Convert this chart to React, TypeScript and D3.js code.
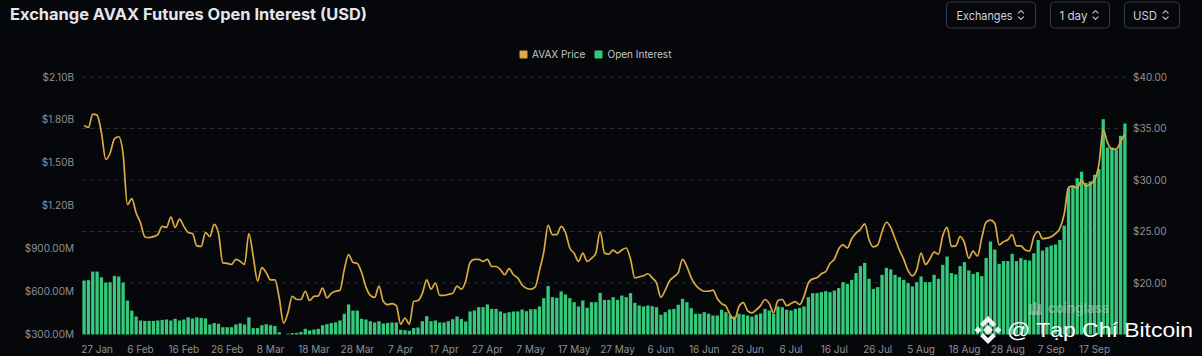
import React from "react";
import * as d3 from "d3";

// Open interest in millions USD, one value per day
const openInterest = [
  677, 680, 740, 740, 700, 663, 665, 710, 705, 663,
  537, 467, 426, 398, 395, 395, 395, 398, 402, 405,
  398, 410, 398, 405, 420, 412, 420, 415, 412, 370,
  380, 375, 351, 351, 351, 370, 378, 370, 420, 345,
  345, 365, 372, 365, 360, 316, 285, 305, 310, 312,
  318, 340, 328, 335, 340, 365, 372, 380, 385, 398,
  445, 510, 467, 467, 410, 405, 393, 384, 393, 377,
  381, 384, 384, 333, 330, 326, 345, 349, 393, 428,
  393, 398, 384, 384, 393, 407, 426, 409, 391, 461,
  468, 491, 491, 510, 479, 479, 461, 449, 456, 461,
  461, 475, 463, 477, 477, 496, 554, 638, 561, 556,
  601, 580, 554, 526, 496, 538, 487, 526, 526, 591,
  542, 542, 561, 542, 572, 561, 589, 521, 503, 496,
  503, 498, 491, 438, 456, 475, 479, 508, 549, 526,
  484, 445, 445, 456, 445, 433, 433, 473, 456, 433,
  425, 445, 440, 433, 425, 438, 447, 479, 468, 444,
  496, 491, 473, 468, 479, 486, 496, 561, 589, 589,
  596, 603, 596, 607, 624, 666, 654, 682, 729, 778,
  801, 689, 619, 631, 717, 766, 755, 717, 701, 682,
  659, 636, 666, 706, 666, 666, 717, 689, 787, 845,
  729, 720, 778, 806, 748, 724, 736, 708, 834, 950,
  894, 794, 813, 813, 864, 813, 834, 822, 817, 868,
  961, 887, 910, 922, 929, 961, 1061, 1323, 1340, 1393,
  1438, 1359, 1370, 1417, 1456, 1805, 1607, 1607, 1589, 1689,
  1775,
];

// AVAX price in USD
const avaxPrice = [
  35.3, 35.1, 36.4, 36.3, 34.6, 32.0, 32.6, 34.0, 34.2, 32.5,
  27.6, 28.2, 26.8, 25.85, 24.5, 24.4, 24.5, 24.7, 25.5, 25.4,
  26.4, 25.4, 26.2, 25.5, 24.9, 24.8, 23.6, 23.55, 24.9, 24.5,
  25.7, 24.8, 21.95, 21.9, 21.8, 22.3, 22.1, 21.8, 24.8, 22.6,
  20.2, 21.5, 21.0, 20.3, 20.3, 18.55, 16.1, 17.1, 18.7, 18.4,
  18.4, 19.2, 18.3, 18.7, 18.75, 19.5, 18.55, 19.0, 19.2, 19.3,
  21.3, 22.75, 22.0, 21.9, 21.0, 19.6, 18.8, 18.6, 19.7, 18.2,
  17.9, 18.0, 17.8, 16.0, 16.6, 16.0, 18.2, 18.3, 19.0, 20.3,
  19.4, 20.0, 18.8, 18.8, 18.9, 19.0, 19.7, 19.4, 20.2, 22.0,
  22.3, 22.3, 22.1, 22.3, 21.6, 21.6, 21.3, 20.8, 21.4, 20.8,
  20.5, 19.8, 19.5, 19.4, 19.6, 21.2, 23.0, 25.6, 24.7, 24.7,
  25.5, 24.9, 23.4, 22.9, 22.1, 22.9, 22.1, 22.4, 22.9, 25.0,
  22.9, 22.8, 23.2, 22.9, 23.2, 23.4, 22.3, 20.5, 20.6, 20.7,
  20.9, 20.5, 20.0, 18.6, 19.3, 20.2, 20.6, 21.0, 22.3, 21.6,
  20.5, 19.8, 19.4, 19.2, 19.2, 19.3, 18.5, 18.0, 17.75, 16.9,
  16.5, 17.7, 18.1, 17.3, 17.1, 17.4, 17.8, 18.4, 18.0, 17.1,
  18.3, 18.4, 17.8, 18.0, 18.2, 17.9, 18.7, 20.0, 20.4, 20.5,
  20.9, 21.1, 21.9, 22.3, 23.3, 23.7, 23.4, 24.3, 24.85, 25.2,
  25.75, 24.2, 23.5, 23.7, 25.0, 25.9, 25.4, 24.3, 23.2, 22.3,
  21.2, 20.7, 21.3, 22.9, 21.8, 22.3, 23.0, 22.8, 24.6, 25.4,
  23.55, 23.6, 24.5, 23.9, 22.4, 23.1, 22.6, 24.4, 25.9, 26.1,
  25.8, 23.7, 24.0, 24.2, 24.7, 23.6, 23.6, 23.2, 23.1, 24.5,
  25.0, 24.3, 24.35, 24.5, 24.8, 25.3, 26.7, 29.3, 29.4, 29.2,
  30.0, 29.4, 29.6, 30.0, 31.5, 34.9, 33.6, 33.0, 33.0, 33.7,
  34.5,
];

const xTickLabels = [
  "27 Jan", "6 Feb", "16 Feb", "26 Feb", "8 Mar", "18 Mar", "28 Mar", "7 Apr",
  "17 Apr", "27 Apr", "7 May", "17 May", "27 May", "6 Jun", "16 Jun", "26 Jun",
  "6 Jul", "16 Jul", "26 Jul", "5 Aug", "18 Aug", "28 Aug", "7 Sep", "17 Sep",
];
const xTickFirstIndex = 3;
const xTickInterval = 10;

const leftTicks = [300, 600, 900, 1200, 1500, 1800, 2100];
const rightTicks = [20, 25, 30, 35, 40];

const controls = ["Exchanges", "1 day", "USD"];

const W = 1202;
const H = 356;
const FONT = "Inter, 'Noto Sans', Roboto, sans-serif";

const fmtLeft = (v: number) =>
  v >= 1000 ? `$${(v / 1000).toFixed(2)}B` : `$${v.toFixed(2)}M`;
const fmtRight = (v: number) => `$${v.toFixed(2)}`;

function Chevron({ x, y }: { x: number; y: number }) {
  return (
    <g stroke="#b8bcc4" strokeWidth={1.2} fill="none" strokeLinecap="round" strokeLinejoin="round">
      <path d={`M${x - 2.6},${y - 1.8} L${x},${y - 4.4} L${x + 2.6},${y - 1.8}`} />
      <path d={`M${x - 2.6},${y + 1.8} L${x},${y + 4.4} L${x + 2.6},${y + 1.8}`} />
    </g>
  );
}

export default function App() {
  const n = openInterest.length;
  const x = d3
    .scaleBand<number>()
    .domain(d3.range(n))
    .range([82, 1127])
    .paddingInner(0.24)
    .paddingOuter(0.1);
  const bw = x.bandwidth();
  const yL = d3.scaleLinear().domain([300, 2100]).range([334.5, 77]);
  const yR = d3.scaleLinear().domain([15, 40]).range([334.5, 77]);

  const line = d3
    .line<number>()
    .x((_, i) => (x(i) as number) + bw / 2)
    .y((v) => yR(v))
    .curve(d3.curveMonotoneX);

  const ctrlBoxes = [
    { x: 946.5, w: 89, label: controls[0], tx: 956.5, tw: 56, cx: 1021 },
    { x: 1050.5, w: 59, label: controls[1], tx: 1059.5, tw: 28, cx: 1095.5 },
    { x: 1124.5, w: 55, label: controls[2], tx: 1133, tw: 24, cx: 1165.5 },
  ];

  return (
    <svg
      width={W}
      height={H}
      viewBox={`0 0 ${W} ${H}`}
      style={{ position: "absolute", left: 0, top: 0, display: "block" }}
      fontFamily={FONT}
    >
      <rect x={0} y={0} width={W} height={H} fill="#05070b" />

      {/* Title */}
      <text
        x={10}
        y={19.5}
        fontSize={15.5}
        fontWeight={700}
        fill="#e4e6ea"
        textLength={357}
        lengthAdjust="spacingAndGlyphs"
      >
        Exchange AVAX Futures Open Interest (USD)
      </text>

      {/* Controls */}
      {ctrlBoxes.map((b) => (
        <g key={b.label}>
          <rect x={b.x} y={2} width={b.w} height={26} rx={4} fill="none" stroke="#363a42" strokeWidth={1} />
          <text
            x={b.tx}
            y={19.5}
            fontSize={12}
            fill="#d0d3d8"
            textLength={b.tw}
            lengthAdjust="spacingAndGlyphs"
          >
            {b.label}
          </text>
          <Chevron x={b.cx} y={15} />
        </g>
      ))}

      {/* Legend */}
      <rect x={519.5} y={50.5} width={8} height={8} rx={1} fill="#dcaa3f" />
      <text x={532} y={58} fontSize={10} fill="#c4c7cc">AVAX Price</text>
      <rect x={594.5} y={50.5} width={8} height={8} rx={1} fill="#35c97c" />
      <text x={607.5} y={58} fontSize={10} fill="#c4c7cc">Open Interest</text>

      {/* Grid lines */}
      {rightTicks.map((t) => (
        <line
          key={t}
          x1={82}
          x2={1127}
          y1={yR(t)}
          y2={yR(t)}
          stroke="#2a2e36"
          strokeWidth={1}
          strokeDasharray="4,4"
        />
      ))}

      {/* Bars */}
      {openInterest.map((v, i) =>
        v > 300 ? (
          <rect
            key={i}
            x={x(i) as number}
            y={yL(v)}
            width={bw}
            height={yL(300) - yL(v)}
            fill="#35c97c"
          />
        ) : null
      )}

      {/* Price line */}
      <path d={line(avaxPrice) || ""} fill="none" stroke="#dcaa3f" strokeWidth={1.7} />

      {/* Left axis */}
      {leftTicks.map((t) => (
        <text key={t} x={74} y={yL(t)} dy="0.35em" fontSize={10} fill="#8e9198" textAnchor="end">
          {fmtLeft(t)}
        </text>
      ))}

      {/* Right axis */}
      {rightTicks.map((t) => (
        <text key={t} x={1133} y={yR(t)} dy="0.35em" fontSize={10} fill="#8e9198">
          {fmtRight(t)}
        </text>
      ))}

      {/* X axis labels */}
      {xTickLabels.map((lab, k) => {
        const idx = xTickFirstIndex + k * xTickInterval;
        return (
          <text
            key={lab}
            x={(x(idx) as number) + bw / 2}
            y={349}
            dy="0.35em"
            fontSize={10}
            fill="#8e9198"
            textAnchor="middle"
          >
            {lab}
          </text>
        );
      })}

      {/* coinglass watermark */}
      <g opacity={0.5}>
        <rect x={1029} y={304} width={3} height={9} rx={1} fill="#c8c8c8" />
        <rect x={1033.5} y={302} width={3} height={11} rx={1} fill="#c8c8c8" />
        <rect x={1038} y={304} width={3} height={9} rx={1} fill="#c8c8c8" />
        <rect x={1028} y={311} width={14} height={4} rx={1.5} fill="#c8c8c8" />
        <text x={1048} y={313} fontSize={13} fontWeight={700} fill="#c8c8c8">
          coinglass
        </text>
      </g>

      {/* Binance-style logo + credit */}
      <g fill="#f2f2f2" transform="translate(988,330)">
        <rect x={-3.5} y={-3.5} width={7} height={7} transform="rotate(45)" />
        <rect x={-2.5} y={-2.5} width={5} height={5} transform="translate(-10,0) rotate(45)" />
        <rect x={-2.5} y={-2.5} width={5} height={5} transform="translate(10,0) rotate(45)" />
        <path d="M-8,-6 L0,-14 L8,-6 L5,-3 L0,-8 L-5,-3 Z" />
        <path d="M-8,6 L0,14 L8,6 L5,3 L0,8 L-5,3 Z" />
      </g>
      <text
        x={1007}
        y={337}
        fontSize={21}
        fill="#ffffff"
        fontFamily="'Liberation Sans', Arial, sans-serif"
        textLength={186}
        lengthAdjust="spacingAndGlyphs"
      >
        @ Tạp Chí Bitcoin
      </text>
    </svg>
  );
}
